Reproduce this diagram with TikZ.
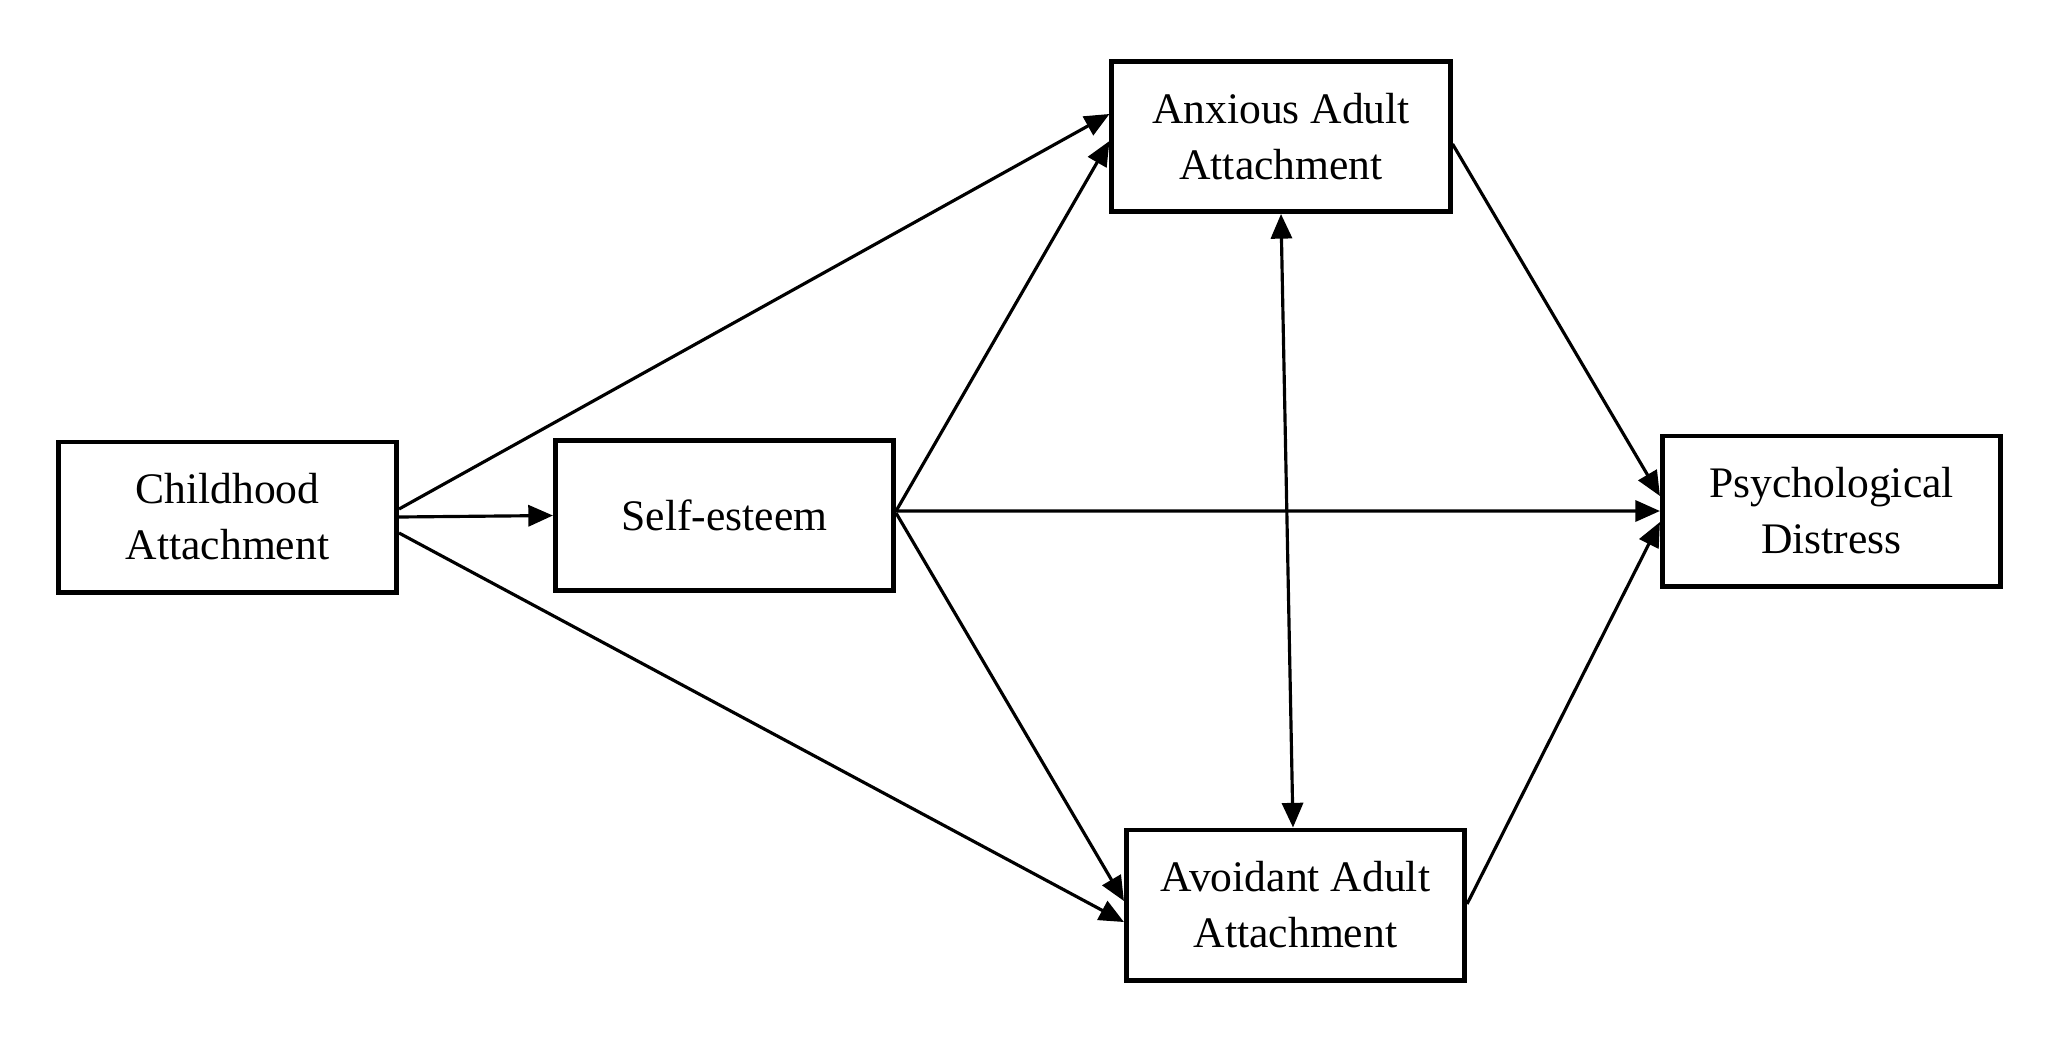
\documentclass[tikz,border=0pt]{standalone}
\usepackage{fontspec}
\setmainfont{Liberation Serif}
\usetikzlibrary{arrows.meta}
\begin{document}
\begin{tikzpicture}[x=0.01cm,y=-0.01cm,
  box/.style={draw,line width=1.4pt,minimum width=3.38cm,minimum height=1.50cm,
    align=center,inner sep=0pt,font=\fontsize{12.4pt}{15.9pt}\selectfont},
  conn/.style={line width=0.9pt,-{Triangle[length=7pt,width=6pt]}},
  bconn/.style={line width=0.9pt,{Triangle[length=7pt,width=6pt]}-{Triangle[length=7pt,width=6pt]}}]
\useasboundingbox (0,0) rectangle (2048,1039);
\node[box] (CA) at (227.5,517) {Childhood\\Attachment};
\node[box] (SE) at (724.5,515.5) {Self-esteem};
\node[box] (AN) at (1281,136.5) {Anxious Adult\\Attachment};
\node[box] (AV) at (1295.5,905) {Avoidant Adult\\Attachment};
\node[box] (PD) at (1831.5,511) {Psychological\\Distress};
\draw[conn] ([yshift=0.08cm]CA.east) -- ([yshift=0.225cm]AN.west);
\draw[conn] (CA.east) -- (SE.west);
\draw[conn] ([yshift=-0.16cm]CA.east) -- ([yshift=-0.17cm]AV.west);
\draw[conn] ([yshift=0.045cm]SE.east) -- ([yshift=-0.045cm]AN.west);
\draw[conn] ([yshift=0.045cm]SE.east) -- ([yshift=0cm]PD.west);
\draw[conn] ([yshift=0.025cm]SE.east) -- ([yshift=0.04cm]AV.west);
\draw[bconn] (AN.south) -- ([xshift=-0.025cm]AV.north);
\draw[conn] ([yshift=-0.075cm]AN.east) -- ([yshift=0.15cm]PD.west);
\draw[conn] ([yshift=0.01cm]AV.east) -- ([yshift=-0.11cm]PD.west);
\end{tikzpicture}
\end{document}
